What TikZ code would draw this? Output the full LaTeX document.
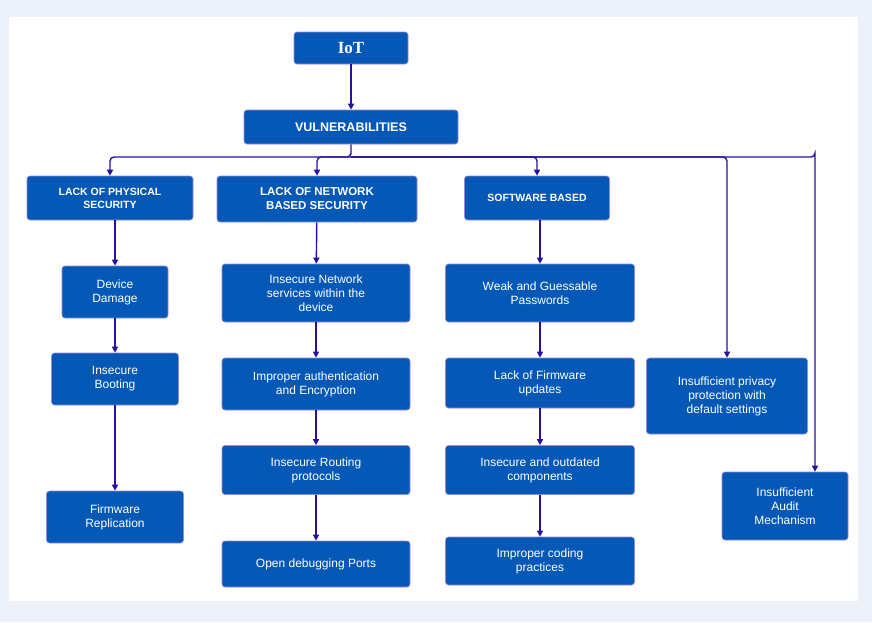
\documentclass[tikz,border=0pt]{standalone}
\usepackage{fontspec}
\setmainfont{Liberation Sans}
\usetikzlibrary{arrows.meta}
\definecolor{bx}{HTML}{0558B6}
\definecolor{ar}{HTML}{2A109E}
\definecolor{bg}{HTML}{EDF1F9}
\begin{document}
\begin{tikzpicture}[x=1pt,y=-1pt,
 box/.style={fill=bx,draw=bx!70!magenta!60,line width=0.6pt,rounded corners=3pt,text=white,align=center,font=\fontsize{12}{14}\selectfont,inner sep=1pt},
 hd/.style={box,font=\bfseries\fontsize{10.5}{13}\selectfont},
 arr/.style={draw=ar,line width=1.4pt,-{Triangle[length=6pt,width=6pt]},rounded corners=4pt}]
\fill[bg] (0,0) rectangle (872,622);
\fill[white] (9,17) rectangle (858,601);
\node[box,minimum width=114,minimum height=32,font=\bfseries\fontsize{17}{20}\selectfont\rmfamily] (iot) at (351,48) {\fontspec{Liberation Serif}IoT};
\node[hd,minimum width=214,minimum height=34,font=\bfseries\fontsize{12.5}{15}\selectfont] (vul) at (351,127) {VULNERABILITIES};
\node[hd,minimum width=166,minimum height=44] (phy) at (110,198) {LACK OF PHYSICAL\\SECURITY};
\node[hd,minimum width=200,minimum height=46,font=\bfseries\fontsize{11.5}{14}\selectfont] (net) at (317,199) {LACK OF NETWORK\\BASED SECURITY};
\node[hd,minimum width=145,minimum height=44] (sw) at (537,198) {SOFTWARE BASED};
\node[box,minimum width=106,minimum height=52] (p1) at (115,292) {Device\\Damage};
\node[box,minimum width=127,minimum height=52] (p2) at (115,379) {Insecure\\Booting};
\node[box,minimum width=137,minimum height=52] (p3) at (115,517) {Firmware\\Replication};
\node[box,minimum width=188,minimum height=58] (n1) at (316,293) {Insecure Network\\services within the\\device};
\node[box,minimum width=188,minimum height=52] (n2) at (316,384) {Improper authentication\\and Encryption};
\node[box,minimum width=188,minimum height=49] (n3) at (316,470) {Insecure Routing\\protocols};
\node[box,minimum width=188,minimum height=46] (n4) at (316,564) {Open debugging Ports};
\node[box,minimum width=189,minimum height=58] (s1) at (540,293) {Weak and Guessable\\Passwords};
\node[box,minimum width=189,minimum height=50] (s2) at (540,383) {Lack of Firmware\\updates};
\node[box,minimum width=189,minimum height=49] (s3) at (540,470) {Insecure and outdated\\components};
\node[box,minimum width=189,minimum height=48] (s4) at (540,561) {Improper coding\\practices};
\node[box,minimum width=161,minimum height=76] (pr) at (727,396) {Insufficient privacy\\protection with\\default settings};
\node[box,minimum width=126,minimum height=68] (au) at (785,506) {Insufficient\\Audit\\Mechanism};
\coordinate (b) at (351,157);
\draw[arr] (iot) -- (vul);
\draw[arr] (vul.south) |- (b) -| (phy.north -| 110,0);
\draw[arr] (b) -| (net);
\draw[arr] (b) -| (sw);
\draw[arr] (b) -| (pr);
\draw[arr] (b) -| (815,157) -- (au.north -| 815,0);
\draw[arr] (phy.south -| 115,0) -- (p1);
\draw[arr] (p1) -- (p2);
\draw[arr] (p2) -- (p3);
\draw[arr] (net) -- (n1);
\draw[arr] (n1) -- (n2);
\draw[arr] (n2) -- (n3);
\draw[arr] (n3) -- (n4);
\draw[arr] (sw.south -| 540,0) -- (s1);
\draw[arr] (s1) -- (s2);
\draw[arr] (s2) -- (s3);
\draw[arr] (s3) -- (s4);
\end{tikzpicture}
\end{document}
